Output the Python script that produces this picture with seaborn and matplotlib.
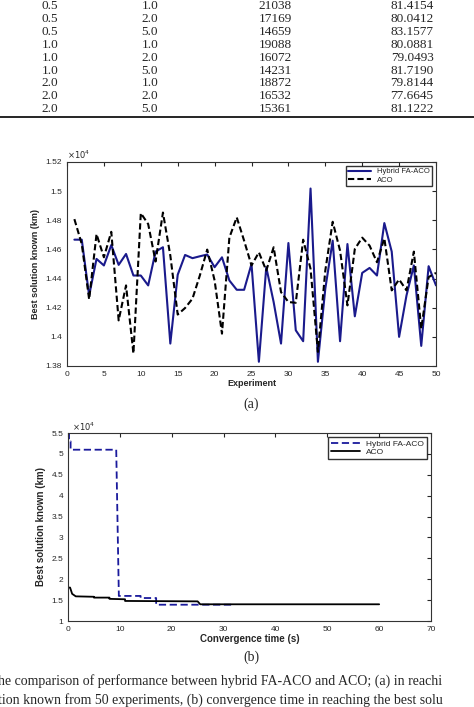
import numpy as np
import pandas as pd
import matplotlib
matplotlib.use("Agg")
import matplotlib.pyplot as plt
import seaborn as sns

sns.set_style("white")
plt.rcParams['font.family'] = ['Liberation Sans', 'DejaVu Sans']

# table fragment
col1 = ["0.5", "0.5", "0.5", "1.0", "1.0", "1.0", "2.0", "2.0", "2.0"]
col2 = ["1.0", "2.0", "5.0", "1.0", "2.0", "5.0", "1.0", "2.0", "5.0"]
col3 = ["21038", "17169", "14659", "19088", "16072", "14231", "18872", "16532", "15361"]
col4 = ["81.4154", "80.0412", "83.1577", "80.0881", "79.0493", "81.7190", "79.8144", "77.6645", "81.1222"]

experiments = list(range(1, 51))
hybrid = [14667, 14667, 14284, 14535, 14490, 14630, 14494, 14569, 14421, 14421,
          14353, 14585, 14615, 13954, 14426, 14562, 14540, 14553, 14565, 14478,
          14546, 14387, 14323, 14323, 14500, 13829, 14478, 14239, 13954, 14644,
          14045, 13970, 15018, 13829, 14330, 14660, 13970, 14637, 14141, 14439,
          14473, 14421, 14781, 14585, 14000, 14284, 14490, 13938, 14485, 14353]
aco = [14808, 14637, 14257, 14705, 14546, 14721, 14113, 14353, 13886, 14849,
       14774, 14517, 14853, 14558, 14153, 14198, 14262, 14421, 14599, 14387,
       14022, 14681, 14820, 14660, 14490, 14580, 14455, 14615, 14307, 14239,
       14234, 14667, 14467, 13897, 14455, 14790, 14592, 14216, 14603, 14681,
       14626, 14512, 14676, 14319, 14394, 14319, 14585, 14056, 14410, 14439]

conv_h_t = [0, 0.2, 0.2, 0.5, 0.5, 9.3, 9.3, 9.8, 9.8, 14, 14, 17, 17, 32]
conv_h_v = [55000, 55000, 53000, 53000, 51000, 51000, 51000, 16500, 16000, 16000, 15500, 15500, 13900, 13900]
conv_a_t = [0, 0.4, 0.8, 1.5, 5, 5, 8, 8, 11, 11, 25, 25.5, 60]
conv_a_v = [18000, 18000, 16500, 15900, 15800, 15600, 15600, 15300, 15200, 14800, 14700, 14000, 14000]

W, H = 474, 707
fig = plt.figure(figsize=(W/100, H/100), dpi=100)

serif = ['Liberation Serif', 'DejaVu Serif']
xs = [50, 150, 275, 412]
for i in range(9):
    y = 6 + i*12.9
    for x, col in zip(xs, [col1, col2, col3, col4]):
        fig.text(x/W, 1 - y/H, col[i], ha='center', va='center', fontsize=9.5, family=serif)
fig.add_artist(plt.Line2D([0, 1], [1-117/H, 1-117/H], color='black', lw=1.2))

def ax_rect(l, t, r, b):
    return [l/W, 1-b/H, (r-l)/W, (b-t)/H]

# Chart (a)
ax1 = fig.add_axes(ax_rect(67, 162, 436, 366))
df1 = pd.DataFrame({"Experiment": experiments * 2,
                    "v": np.array(hybrid + aco) / 1e4,
                    "s": ["Hybrid FA-ACO"] * 50 + ["ACO"] * 50})
sns.lineplot(data=df1, x="Experiment", y="v", hue="s", style="s",
             palette={"Hybrid FA-ACO": "#1a1a8c", "ACO": "black"},
             dashes={"Hybrid FA-ACO": "", "ACO": (3, 1.5)}, ax=ax1, lw=1.5)
ax1.set_xlim(0, 50); ax1.set_ylim(1.38, 1.52)
ax1.set_xticks(range(0, 51, 5))
ax1.set_yticks(np.arange(1.38, 1.521, 0.02))
ax1.set_yticklabels(["1.38", "1.4", "1.42", "1.44", "1.46", "1.48", "1.5", "1.52"])
ax1.tick_params(labelsize=6, direction='in', length=3, top=True, right=True)
ax1.set_xlabel("Experiment", fontsize=6.5, fontweight='bold', labelpad=1)
ax1.set_ylabel("Best solution known (km)", fontsize=6.5, fontweight='bold')
ax1.text(0, 1.005, r"$\times10^4$", transform=ax1.transAxes, fontsize=6, va='bottom')
leg = ax1.legend(loc='upper right', fontsize=5.5, frameon=True, fancybox=False,
                 edgecolor='black', handlelength=3, borderpad=0.3, labelspacing=0.1)
leg.set_title(None)
for s in ax1.spines.values():
    s.set_color('#333333'); s.set_linewidth(0.8)
fig.text(251/W, 1-404/H, "(a)", ha='center', va='center', fontsize=10, family=serif)

# Chart (b)
ax2 = fig.add_axes(ax_rect(68, 433, 431, 621))
df2 = pd.DataFrame({"t": conv_h_t + conv_a_t,
                    "v": np.array(conv_h_v + conv_a_v) / 1e4,
                    "s": ["Hybrid FA-ACO"] * len(conv_h_t) + ["ACO"] * len(conv_a_t)})
sns.lineplot(data=df2, x="t", y="v", hue="s", style="s", sort=False, estimator=None,
             palette={"Hybrid FA-ACO": "#1a1a9c", "ACO": "black"},
             dashes={"Hybrid FA-ACO": (4, 2), "ACO": ""}, ax=ax2, lw=1.3)
ax2.set_xlim(0, 70); ax2.set_ylim(1, 5.5)
ax2.set_xticks(range(0, 71, 10))
ax2.set_yticks([1, 1.5, 2, 2.5, 3, 3.5, 4, 4.5, 5, 5.5])
ax2.set_yticklabels(["1", "1.5", "2", "2.5", "3", "3.5", "4", "4.5", "5", "5.5"])
ax2.tick_params(labelsize=6, direction='in', length=3, top=True, right=True)
ax2.set_xlabel("Convergence time (s)", fontsize=7, fontweight='bold', labelpad=1)
ax2.set_ylabel("Best solution known (km)", fontsize=7, fontweight='bold')
ax2.text(0.01, 1.0, r"$\times10^4$", transform=ax2.transAxes, fontsize=6, va='bottom')
leg2 = ax2.legend(loc='upper right', fontsize=6, frameon=True, fancybox=False,
                  edgecolor='black', handlelength=3.5, borderpad=0.3, labelspacing=0.1)
leg2.set_title(None)
for s in ax2.spines.values():
    s.set_color('#333333'); s.set_linewidth(0.8)
fig.text(251/W, 1-657/H, "(b)", ha='center', va='center', fontsize=10, family=serif)

fig.text(-0.005, 1-681/H, "he comparison of performance between hybrid FA-ACO and ACO; (a) in reachi",
         ha='left', va='center', fontsize=10, family=serif)
fig.text(-0.005, 1-700/H, "tion known from 50 experiments, (b) convergence time in reaching the best solu",
         ha='left', va='center', fontsize=10, family=serif)

fig.savefig("out.png", dpi=100)
